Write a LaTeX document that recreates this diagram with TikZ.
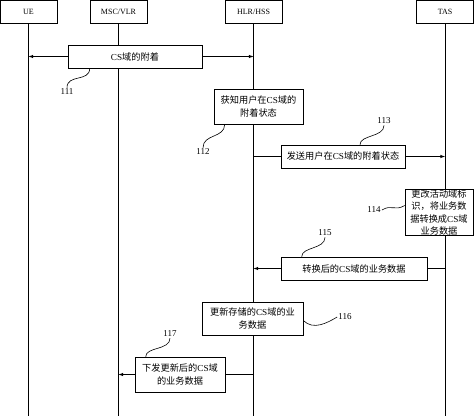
\documentclass[tikz,border=0pt]{standalone}
\usepackage{fontspec}
\setmainfont{Liberation Serif}
\newfontfamily\cjk{Noto Sans CJK SC}
\newcommand{\CSd}{\textrm{CS}}

\begin{document}
\begin{tikzpicture}[x=1pt, y=-1pt, >=latex, line width=0.6pt,
        ent/.style={draw, fill=white, minimum width=57, minimum height=23, inner sep=0pt, font=\fontsize{8}{9}\selectfont},
        stepbox/.style={draw, fill=white, inner sep=0pt, align=center, font=\cjk\fontsize{9.2}{12.5}\selectfont},
        num/.style={inner sep=1pt, font=\fontsize{9}{10}\selectfont}]

    \useasboundingbox (0,0) rectangle (474,416);

    % entities and lifelines
    \node[ent] (ue)  at (28.5,11.5) {UE};
    \node[ent] (msc) at (118.5,11.5) {MSC/VLR};
    \node[ent] (hlr) at (253.5,11.5) {HLR/HSS};
    \node[ent] (tas) at (445,11.5) {TAS};
    \coordinate (bot) at (0,416);
    \foreach \e in {ue,msc,hlr,tas} {
        \draw[line width=1.6pt] (\e.north west) -- (\e.north east);
        \draw (\e.south) -- (\e.south |- bot);
    }

    % steps
    \node[stepbox, minimum width=134, minimum height=23] (attach) at (135,56.5) {\CSd 域的附着};
    \node[stepbox, minimum width=89, minimum height=35] (know) at (258.5,106.5) {获知用户在\CSd 域的\\附着状态};
    \node[stepbox, minimum width=124, minimum height=23] (send) at (343,156.5) {发送用户在\CSd 域的附着状态};
    \node[stepbox, minimum width=68, minimum height=45] (change) at (439,212.5) {更改活动域标\\识，将业务数\\据转换成\CSd 域\\业务数据};
    \node[stepbox, minimum width=146, minimum height=23] (conv) at (354,268.5) {转换后的\CSd 域的业务数据};
    \node[stepbox, minimum width=101, minimum height=33] (update) at (252.5,318.5) {更新存储的\CSd 域的业\\务数据};
    \node[stepbox, minimum width=90, minimum height=35] (issue) at (180,374.5) {下发更新后的\CSd 域\\的业务数据};

    % messages
    \draw[->] (attach.west) -- (attach.west -| ue);
    \draw[->] (attach.east) -- (attach.east -| hlr);
    \draw (send.west -| hlr) -- (send.west);
    \draw[->] (send.east) -- (send.east -| tas);
    \draw (conv.east -| tas) -- (conv.east);
    \draw[->] (conv.west) -- (conv.west -| hlr);
    \draw (issue.east -| hlr) -- (issue.east);
    \draw[->] (issue.west) -- (issue.west -| msc);

    % reference numbers
    \node[num] (n111) at (67,92) {111};
    \node[num] (n112) at (203,152) {112};
    \node[num] (n113) at (384,121) {113};
    \node[num] (n114) at (374,210) {114};
    \node[num] (n115) at (325,233) {115};
    \node[num] (n116) at (345,317) {116};
    \node[num] (n117) at (170,334) {117};

    \draw ([xshift=22]attach.south west) .. controls +(0,14) and +(0,-14) .. (n111.north);
    \draw ([xshift=11]know.south west) .. controls +(0,14) and +(0,-14) .. (n112.north);
    \draw (n113.south) .. controls +(0,12) and +(0,-10) .. ([xshift=17]send.north);
    \draw (n114.east) .. controls +(10,-6) and +(-10,6) .. ([yshift=7]change.west);
    \draw (n115.south) .. controls +(0,12) and +(0,-10) .. ([xshift=21]conv.north west);
    \draw ([yshift=-2]update.east) .. controls +(10,10) and +(-10,6) .. (n116.west);
    \draw (n117.south) .. controls +(0,12) and +(0,-10) .. ([xshift=11]issue.north west);
\end{tikzpicture}
\end{document}
